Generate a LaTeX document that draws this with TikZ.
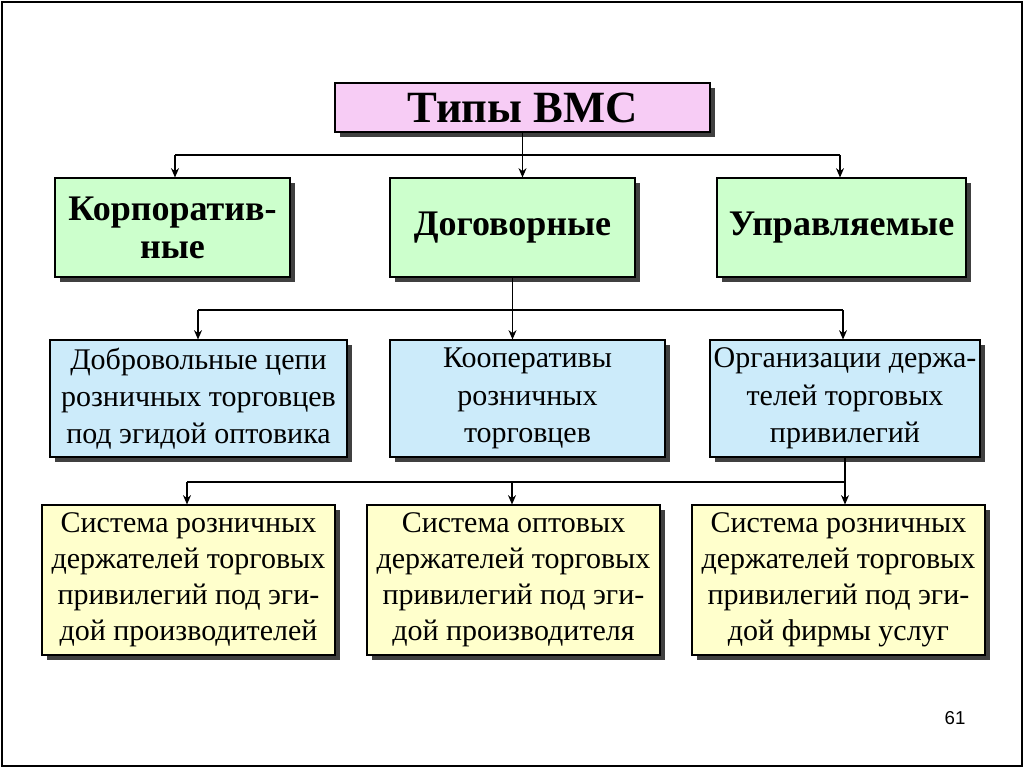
\documentclass[tikz,border=0pt]{standalone}
\usepackage{fontspec}
\setmainfont{Liberation Serif}
\setsansfont{Liberation Sans}
\usetikzlibrary{arrows.meta,shadows}
\definecolor{pinkc}{HTML}{F7CCF5}
\definecolor{greenc}{HTML}{CCFFCC}
\definecolor{bluec}{HTML}{CCEBFA}
\definecolor{yelc}{HTML}{FFFFCC}
\tikzset{
  box/.style={draw=black,line width=0.8pt,align=center,inner sep=0pt,
    drop shadow={shadow xshift=4pt,shadow yshift=-4pt,fill=black!75,opacity=1}},
  fT/.style={font=\fontsize{33.5}{36}\selectfont\bfseries},
  fG/.style={font=\fontsize{27}{28.5}\selectfont\bfseries},
  fB/.style={font=\fontsize{22.5}{28}\selectfont},
  fY/.style={font=\fontsize{22.5}{27}\selectfont},
  conn/.style={line width=0.8pt,-{Stealth[length=7pt,width=6pt]}},
  ln/.style={line width=0.8pt}
}
\begin{document}
\begin{tikzpicture}[x=0.75pt,y=-0.75pt]
\useasboundingbox (0,0) rectangle (1024,768);
\fill[white] (0,0) rectangle (1024,768);
\draw[line width=0.8pt] (2,2) rectangle (1022,766);
\newcommand{\bx}[8]{\node[box,#8,fill=#6,minimum width={(#4-#2)*0.75pt},minimum height={(#5-#3)*0.75pt}] (#1) at ({(#2+#4)/2},{(#3+#5)/2}) {#7};}
\bx{top}{335}{83}{710}{132}{pinkc}{Типы ВМС}{fT}
\bx{g1}{55}{178}{290}{277}{greenc}{Корпоратив-\\ные}{fG}
\bx{g2}{390}{178}{635}{277}{greenc}{Договорные}{fG}
\bx{g3}{717}{178}{966}{277}{greenc}{Управляемые}{fG}
\bx{b1}{50}{340}{347}{457}{bluec}{Добровольные цепи\\розничных торговцев\\под эгидой оптовика}{fB}
\bx{b2}{390}{340}{665}{457}{bluec}{Кооперативы\\розничных\\торговцев}{fB}
\bx{b3}{710}{340}{980}{457}{bluec}{Организации держа-\\телей торговых\\привилегий}{fB}
\bx{y1}{42}{505}{335}{655}{yelc}{Система розничных\\держателей торговых\\привилегий под эги-\\дой производителей}{fY}
\bx{y2}{367}{505}{660}{655}{yelc}{Система оптовых\\держателей торговых\\привилегий под эги-\\дой производителя}{fY}
\bx{y3}{692}{505}{985}{655}{yelc}{Система розничных\\держателей торговых\\привилегий под эги-\\дой фирмы услуг}{fY}
\coordinate (j1l) at (175,155);
\coordinate (j1r) at (840,155);
\draw[conn] (top.south) -- (top.south |- g2.north);
\draw[ln] (j1l) -- (j1r);
\draw[conn] (j1l) -- (j1l |- g1.north);
\draw[conn] (j1r) -- (j1r |- g3.north);
\coordinate (j2l) at (198,310);
\coordinate (j2r) at (843,310);
\draw[conn] (g2.south) -- (g2.south |- b2.north);
\draw[ln] (j2l) -- (j2r);
\draw[conn] (j2l) -- (j2l |- b1.north);
\draw[conn] (j2r) -- (j2r |- b3.north);
\coordinate (j3l) at (187,482);
\coordinate (j3m) at (512,482);
\coordinate (j3r) at (845,482);
\draw[conn] (j3r |- b3.south) -- (j3r |- y3.north);
\draw[ln] (j3l) -- (j3r);
\draw[conn] (j3l) -- (j3l |- y1.north);
\draw[conn] (j3m) -- (j3m |- y2.north);
\node[font=\sffamily\fontsize{14}{16}\selectfont] (pg) at (955,718) {61};
\end{tikzpicture}
\end{document}
